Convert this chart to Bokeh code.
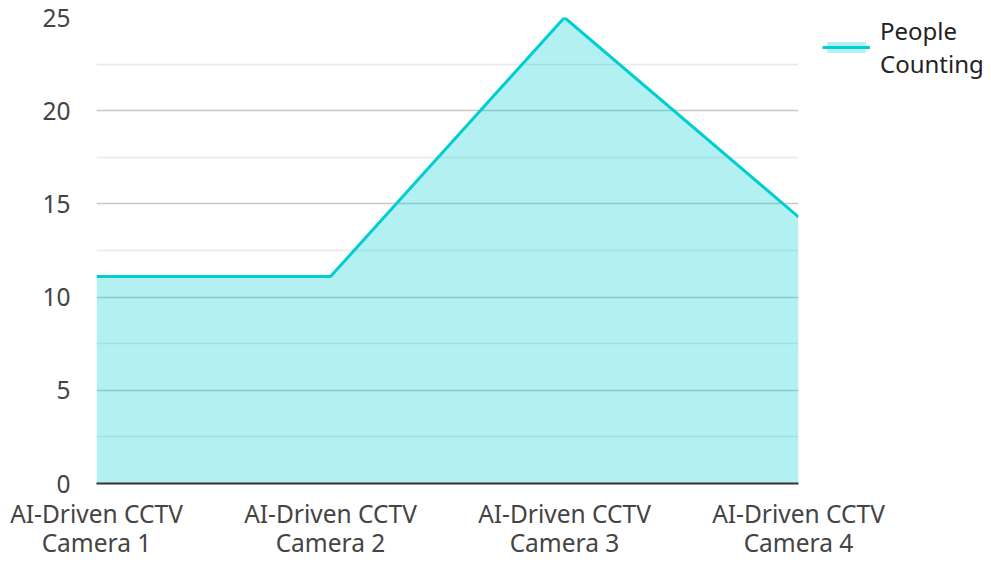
from bokeh.plotting import figure
from bokeh.models import Range1d, FixedTicker, Legend, LegendItem, ColumnDataSource
from bokeh.embed import file_html
from bokeh.resources import INLINE

categories = ["AI-Driven CCTV\nCamera 1", "AI-Driven CCTV\nCamera 2",
              "AI-Driven CCTV\nCamera 3", "AI-Driven CCTV\nCamera 4"]
people_counting = [11.1, 11.1, 25.0, 14.3]
y_ticks = [0, 5, 10, 15, 20, 25]
y_minor = [2.5, 7.5, 12.5, 17.5, 22.5]
series_label = "People\nCounting"

FONT = "Noto Sans"
TEXT = "#444444"
LINE = "#00CED1"
FS = "24.5px"

xs = list(range(len(categories)))
src = ColumnDataSource(dict(x=xs, y=people_counting, y0=[0] * len(xs)))

p = figure(frame_width=702, frame_height=466, output_backend="svg", toolbar_location=None,
           x_range=Range1d(0, len(categories) - 1), y_range=Range1d(0, 25),
           min_border_left=96, min_border_right=185, min_border_top=17,
           min_border_bottom=50)
p.outline_line_color = None

area = p.varea(x="x", y1="y0", y2="y", source=src, fill_color=LINE, fill_alpha=0.3)
line = p.line(x="x", y="y", source=src, line_color=LINE, line_width=3)

# y axis
p.yaxis.ticker = FixedTicker(ticks=y_ticks, minor_ticks=y_minor)
p.yaxis.axis_line_color = None
p.yaxis.major_tick_line_color = None
p.yaxis.minor_tick_line_color = None
p.yaxis.major_label_text_font = FONT
p.yaxis.major_label_text_font_size = FS
p.yaxis.major_label_text_color = TEXT
p.yaxis.major_label_standoff = 20

# x axis
p.xaxis.ticker = FixedTicker(ticks=xs)
p.xaxis.major_label_overrides = {i: c for i, c in zip(xs, categories)}
p.xaxis.axis_line_color = "#333333"
p.xaxis.axis_line_width = 2
p.xaxis.major_tick_line_color = None
p.xaxis.minor_tick_line_color = None
p.xaxis.major_label_text_font = FONT
p.xaxis.major_label_text_font_size = FS
p.xaxis.major_label_text_color = TEXT
p.xaxis.major_label_standoff = 7
p.xaxis.major_label_text_line_height = 0.9

# grids
p.xgrid.grid_line_color = None
p.ygrid.ticker = FixedTicker(ticks=y_ticks, minor_ticks=y_minor)
p.ygrid.grid_line_color = "#c8c8c8"
p.ygrid.grid_line_width = 1.5
p.ygrid.minor_grid_line_color = "#e8e8e8"
p.ygrid.minor_grid_line_width = 1.5

legend = Legend(items=[LegendItem(label=series_label, renderers=[area, line])],
                location=(24, 403), border_line_color=None,
                background_fill_alpha=0, label_text_font=FONT,
                label_text_font_size="24px", label_text_color="#222222",
                label_text_line_height=1.3,
                glyph_width=48, glyph_height=14, label_standoff=10,
                padding=0, margin=0)
p.add_layout(legend, "right")

open("out.html", "w").write(file_html(p, INLINE))
